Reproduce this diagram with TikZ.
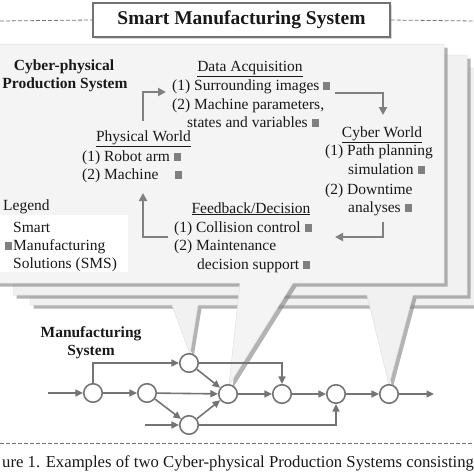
\documentclass[tikz,border=0pt]{standalone}
\usepackage{fontspec}
\setmainfont{Liberation Serif}
\usetikzlibrary{arrows.meta,shadows}
\definecolor{lgray}{HTML}{747474}
\definecolor{sqgray}{HTML}{808080}
\definecolor{panelfill}{HTML}{F4F4F4}
\definecolor{panelback}{HTML}{F1F1F1}
\newcommand{\gsq}{\textcolor{sqgray}{\rule{7pt}{8pt}}}
\begin{document}
\begin{tikzpicture}[x=1pt,y=-1pt,
  txt/.style={inner sep=0pt, font=\fontsize{15.5}{19}\selectfont, text=black!90, anchor=base west},
  ctxt/.style={txt, anchor=base},
  btxt/.style={ctxt, font=\fontsize{15.5}{19}\selectfont\bfseries},
  panel/.style={fill=#1, draw=black!12, line width=0.5pt,
    drop shadow={shadow xshift=3.5pt, shadow yshift=-3.5pt, fill=black!50, opacity=0.6}},
  circ/.style={circle, draw=lgray, line width=1.6pt, fill=white, minimum size=18.5pt, inner sep=0pt},
  net/.style={draw=lgray, line width=1.6pt, -{Triangle[length=7.5pt,width=7pt]}},
  pa/.style={draw=sqgray, line width=2pt, -{Triangle[length=8pt,width=8pt]}},
  dline/.style={draw=black!55, line width=0.8pt, dash pattern=on 4pt off 2pt},
  titlebox/.style={draw=black!55, line width=1.4pt, fill=white, minimum width=297pt, minimum height=34pt,
    inner sep=0pt, font=\fontsize{19.5}{22}\selectfont\bfseries, text=black!90,
    drop shadow={shadow xshift=1.5pt, shadow yshift=-1.5pt, fill=black!30, opacity=0.5}}
]
\useasboundingbox (0,0) rectangle (474,474);

% ---- title ----
\node[titlebox] (title) at (241.5,20) {Smart Manufacturing System};
\coordinate (tl) at (0,21);
\coordinate (tr) at (474,21);
\draw[dline] (tl) -- (title.west);
\draw[dline] (title.east) -- (tr);

% ---- stacked callout panels ----
\path[panel=panelback] (30,68) -- (482,68) -- (482,305) -- (198,305) -- (190,354) -- (172,305) -- (30,305) -- cycle;
\path[panel=panelback] (13,55) -- (467,55) -- (467,295) -- (413,295) -- (389,385) -- (367,295) -- (13,295) -- cycle;
\path[panel=panelfill] (-6,44) -- (444,44) -- (444,283) -- (293,283) -- (229,385) -- (240,283) -- (-6,283) -- cycle;

% ---- legend white box ----
\fill[white] (-2,215) rectangle (128,272);

% ---- panel texts ----
\node[btxt] (cps1) at (64,70) {Cyber-physical};
\node[btxt] (cps2) at (65,88) {Production System};

\node[ctxt] (daq) at (250,71) {\underline{Data Acquisition}};
\node[txt] (daq1) at (172,90) {(1) Surrounding images \gsq};
\node[txt] (daq2) at (172,109) {(2) Machine parameters,};
\node[txt] (daq3) at (187,127) {states and variables \gsq};

\node[ctxt] (phys) at (143.5,141) {\underline{Physical World}};
\node[txt] (phy1) at (82,161) {(1) Robot arm \gsq};
\node[txt] (phy2) at (82,179) {(2) Machine\hspace{1.05em}\gsq};

\node[ctxt] (cyb) at (382,137) {\underline{Cyber World}};
\node[txt] (cyb1) at (325,155) {(1) Path planning};
\node[txt] (cyb2) at (348,174) {simulation \gsq};
\node[txt] (cyb3) at (325,194) {(2) Downtime};
\node[txt] (cyb4) at (348,212) {analyses \gsq};

\node[ctxt] (fb) at (251,213) {\underline{Feedback/Decision}};
\node[txt] (fb1) at (174,232) {(1) Collision control \gsq};
\node[txt] (fb2) at (174,250) {(2) Maintenance};
\node[txt] (fb3) at (197,269) {decision support \gsq};

\node[txt] (leg) at (3,210) {Legend};
\node[txt] (leg1) at (13,232) {Smart};
\node[txt] (legsq) at (5,250) {\gsq};
\node[txt] (leg2) at (13,250) {Manufacturing};
\node[txt] (leg3) at (13,268) {Solutions (SMS)};

% ---- panel cycle arrows ----
\coordinate (c1s) at (143,121);
\coordinate (c1e) at (166,92);
\draw[pa] (c1s) |- (c1e);
\coordinate (c2s) at (335,93);
\coordinate (c2e) at (383,115);
\draw[pa] (c2s) -| (c2e);
\coordinate (c3s) at (383,222);
\coordinate (c3e) at (335,237);
\draw[pa] (c3s) |- (c3e);
\coordinate (c4s) at (168,237);
\coordinate (c4e) at (143,193);
\draw[pa] (c4s) -| (c4e);

% ---- manufacturing system network ----
\node[btxt] (ms1) at (91,337) {Manufacturing};
\node[btxt] (ms2) at (91,355) {System};

\node[circ] (A) at (93,393) {};
\node[circ] (B) at (147,393) {};
\node[circ] (C) at (189,363) {};
\node[circ] (D) at (228,394) {};
\node[circ] (E) at (189,425) {};
\node[circ] (F) at (282,394) {};
\node[circ] (G) at (336,394) {};
\node[circ] (H) at (389,394) {};
\coordinate (in1) at (48,393);
\coordinate (in2) at (145,425);
\coordinate (out) at (434,394);

\draw[net] (in1) -- (A);
\draw[net] (A) |- (C);
\draw[net] (A) -- (B);
\draw[net] (B) -- (D);
\draw[net] (B) -- (E);
\draw[net] (C) -- (D);
\draw[net] (C) -| (F);
\draw[net] (in2) -- (E);
\draw[net] (E) -- (D);
\draw[net] (E) -| (G);
\draw[net] (D) -- (F);
\draw[net] (F) -- (G);
\draw[net] (G) -- (H);
\draw[net] (H) -- (out);

% ---- caption ----
\coordinate (bl) at (0,443);
\coordinate (br) at (474,443);
\draw[dline] (bl) -- (br);
\node[txt, font=\fontsize{16.7}{20}\selectfont] (cap) at (2,467) {ure 1. Examples of two Cyber-physical Production Systems consisting};
\end{tikzpicture}
\end{document}
